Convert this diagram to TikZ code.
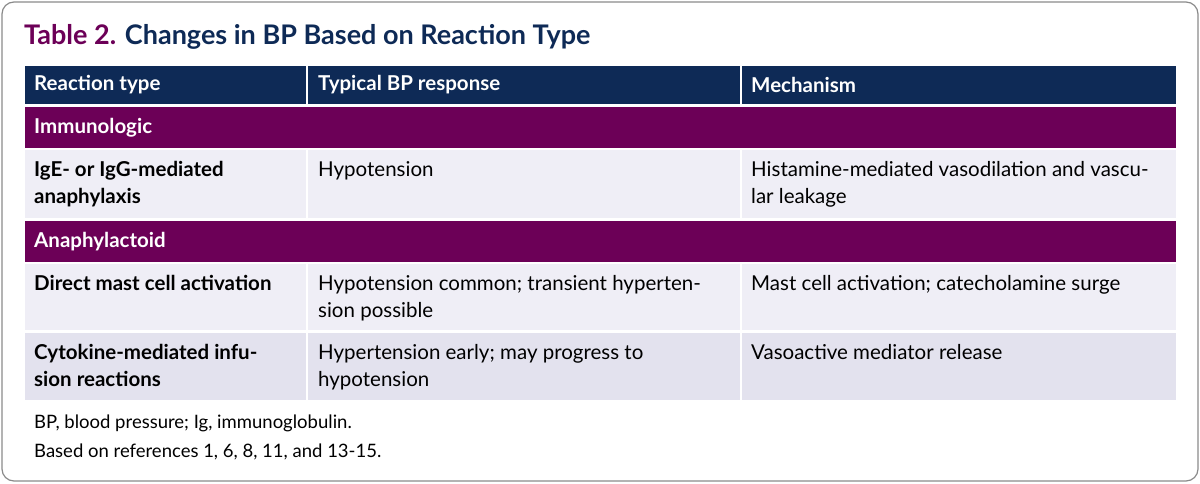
\documentclass[tikz,border=0pt]{standalone}
\usepackage{fontspec}
\setmainfont{Lato}
\definecolor{navy}{HTML}{0E2A56}
\definecolor{plum}{HTML}{6C0057}
\definecolor{lav}{HTML}{EFEEF6}
\definecolor{lavd}{HTML}{E3E2EE}
\definecolor{frame}{HTML}{8A8A8A}
\begin{document}
\begin{tikzpicture}[
	x=1pt,y=-1pt,
	font=\fontsize{20.5}{27}\selectfont,
	cell/.style={anchor=north west,inner sep=0pt,align=left},
	head/.style={anchor=west,inner sep=0pt,text=white,font=\fontsize{20.5}{27}\selectfont\bfseries},
	bold/.style={cell,font=\fontsize{20.5}{27}\selectfont\bfseries},
	note/.style={anchor=west,inner sep=0pt,font=\fontsize{18.5}{22}\selectfont},
	]
\useasboundingbox (0,0) rectangle (1200,483);
\draw [frame,line width=1.2pt,rounded corners=12pt] (2,2) rectangle (1198,481);
\node [anchor=west,inner sep=0pt,font=\fontsize{27}{32}\selectfont\bfseries] (title) at (24,37)
	{\textcolor{plum}{Table 2.} \textcolor{navy}{Changes in BP Based on Reaction Type}};
% header
\fill [navy] (25,66) rectangle (1176,104);
\draw [white,line width=1.5pt] (307,66) -- (307,104) (741,66) -- (741,104);
\node [head] (h1) at (34,85) {Reaction type};
\node [head] (h2) at (318,85) {Typical BP response};
\node [head] (h3) at (751,85) {Mechanism};
% immunologic
\fill [plum] (25,107) rectangle (1176,148);
\node [head] (g1) at (34,128) {Immunologic};
\fill [lav] (25,150) rectangle (1176,218);
\draw [white,line width=1.5pt] (307,150) -- (307,218) (741,150) -- (741,218);
\node [bold] (r1a) at (34,161) {IgE- or IgG-mediated\\anaphylaxis};
\node [cell] (r1b) at (318,161) {Hypotension};
\node [cell] (r1c) at (751,161) {Histamine-mediated vasodilation and vascu-\\lar leakage};
% anaphylactoid
\fill [plum] (25,221) rectangle (1176,262);
\node [head] (g2) at (34,242) {Anaphylactoid};
\fill [lav] (25,264) rectangle (1176,330);
\draw [white,line width=1.5pt] (307,264) -- (307,330) (741,264) -- (741,330);
\node [bold] (r2a) at (34,275) {Direct mast cell activation};
\node [cell] (r2b) at (318,275) {Hypotension common; transient hyperten-\\sion possible};
\node [cell] (r2c) at (751,275) {Mast cell activation; catecholamine surge};
\fill [lavd] (25,333) rectangle (1176,400);
\draw [white,line width=1.5pt] (307,333) -- (307,400) (741,333) -- (741,400);
\node [bold] (r3a) at (34,344) {Cytokine-mediated infu-\\sion reactions};
\node [cell] (r3b) at (318,344) {Hypertension early; may progress to\\hypotension};
\node [cell] (r3c) at (751,344) {Vasoactive mediator release};
% notes
\node [note] (n1) at (34,423) {BP, blood pressure; Ig, immunoglobulin.};
\node [note] (n2) at (34,452) {Based on references 1, 6, 8, 11, and 13-15.};
\end{tikzpicture}
\end{document}
